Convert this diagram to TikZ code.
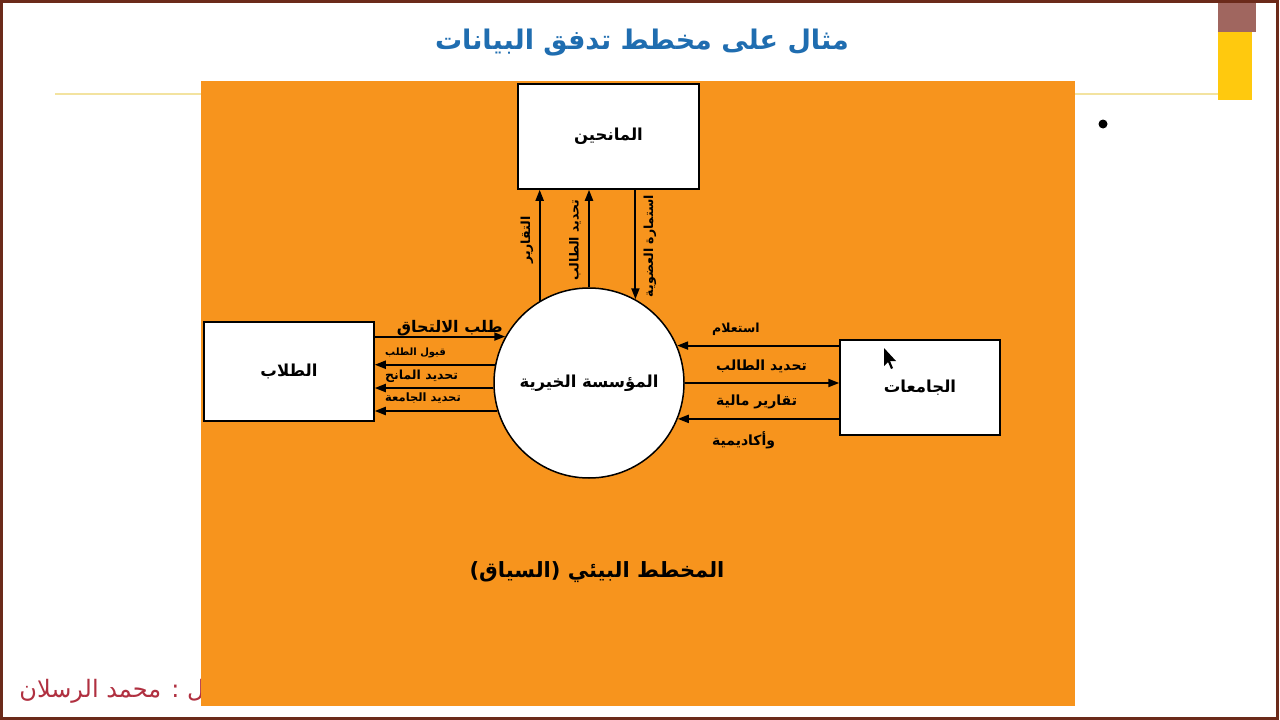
\documentclass[tikz,border=0pt]{standalone}
\usepackage{fontspec}
\newfontfamily\arabicfont[Script=Arabic]{DejaVu Sans}
\TeXXeTstate=1
\usetikzlibrary{arrows.meta,calc}
\definecolor{panelorange}{HTML}{F7941D}
\definecolor{titleblue}{HTML}{1F6DB0}
\definecolor{framebrown}{HTML}{6B2A1A}
\definecolor{tabmauve}{HTML}{A0665F}
\definecolor{tabyellow}{HTML}{FFC90E}
\definecolor{rulepale}{HTML}{F3E3A0}
\definecolor{signred}{HTML}{B03040}
\newcommand{\artxt}[1]{{\arabicfont\beginR #1\endR}}
\tikzset{
  box/.style={draw, line width=1.5pt, fill=white, inner sep=0pt,
              font=\bfseries\fontsize{16.5}{19}\selectfont},
  proc/.style={circle, draw, line width=1.5pt, fill=white, minimum size=190pt,
               font=\bfseries\fontsize{16.5}{19}\selectfont},
  lbl/.style={inner sep=0pt, font=\bfseries\fontsize{12.5}{15}\selectfont},
  biglbl/.style={lbl, font=\bfseries\fontsize{16}{19}\selectfont},
  edge/.style={-{Triangle[length=11pt,width=8pt]}, line width=2pt}
}

\begin{document}
\begin{tikzpicture}[x=1pt, y=-1pt]
  \useasboundingbox (0,0) rectangle (1280,720);
  \fill[white] (0,0) rectangle (1280,720);

  % slide decoration
  \draw[rulepale, line width=1.5pt] (55,94) -- (1218,94);
  \fill[tabmauve] (1218,0) rectangle (1256,32);
  \fill[tabyellow] (1218,32) rectangle (1252,100);
  \fill[black] (1103,124) circle (4.5);
  \node[text=signred, anchor=east, font=\fontsize{24}{28}\selectfont] (sign) at (208,691) {\artxt{ل : محمد الرسلان}};
  \draw[framebrown, line width=3pt] (1.5,1.5) rectangle (1277,718);

  % title
  \node[text=titleblue, font=\bfseries\fontsize{27}{32}\selectfont] (title) at (642,43)
    {\artxt{مثال على مخطط تدفق البيانات}};

  % panel
  \fill[panelorange] (201,81) rectangle (1075,706);

  % entities and process
  \node[box, minimum width=181pt, minimum height=105pt] (donors) at (608.5,136.5) {\artxt{المانحين}};
  \node[box, minimum width=170pt, minimum height=99pt] (students) at (289,371.5) {\artxt{الطلاب}};
  \node[box, minimum width=160pt, minimum height=95pt] (univ) at (920,387.5) {\artxt{الجامعات}};
  \node[proc] (org) at (589,383) {\artxt{المؤسسة الخيرية}};

  % flows with donors
  \draw[edge] (org.121.8) -- (org.121.8 |- donors.south);
  \draw[edge] (org.north) -- (org.north |- donors.south);
  \draw[edge] (org.61.7 |- donors.south) -- (org.61.7);
  \node[lbl, rotate=90] (reports) at (527,240) {\artxt{التقارير}};
  \node[lbl, rotate=90] (pickst) at (575,240) {\artxt{تحديد الطالب}};
  \node[lbl, rotate=90] (memform) at (650,246) {\artxt{استمارة العضوية}};

  % flows with students
  \draw[edge] (org.151.7 -| students.east) -- (org.151.7);
  \draw[edge] (org.169.7) -- (org.169.7 -| students.east);
  \draw[edge] (org.183) -- (org.183 -| students.east);
  \draw[edge] (org.197.8) -- (org.197.8 -| students.east);
  \node[biglbl, anchor=east] (apply) at (503,328) {\artxt{طلب الالتحاق}};
  \node[lbl, anchor=west, font=\bfseries\fontsize{10}{12}\selectfont] (accept) at (385,353) {\artxt{قبول الطلب}};
  \node[lbl, anchor=west] (pickdn) at (385,376) {\artxt{تحديد المانح}};
  \node[lbl, anchor=west, font=\bfseries\fontsize{11.5}{14}\selectfont] (pickun) at (385,398) {\artxt{تحديد الجامعة}};

  % flows with universities
  \draw[edge] (org.23.6 -| univ.west) -- (org.23.6);
  \draw[edge] (org.0.6) -- (org.0.6 -| univ.west);
  \draw[edge] (org.-22.3 -| univ.west) -- (org.-22.3);
  \node[lbl, anchor=west] (query) at (712,329) {\artxt{استعلام}};
  \node[lbl, anchor=west, font=\bfseries\fontsize{14}{17}\selectfont] (pickst2) at (716,366) {\artxt{تحديد الطالب}};
  \node[lbl, anchor=west, font=\bfseries\fontsize{14}{17}\selectfont] (finrep) at (716,402) {\artxt{تقارير مالية}};
  \node[lbl, anchor=west, font=\bfseries\fontsize{14}{17}\selectfont] (acad) at (712,440) {\artxt{وأكاديمية}};

  % mouse pointer
  \fill[black] (884,348) -- (884,366) -- (888,362) -- (891,369) -- (893,368) -- (890,361) -- (896,361) -- cycle;

  % caption
  \node[font=\bfseries\fontsize{21}{25}\selectfont] (caption) at (597,572) {\artxt{المخطط البيئي (السياق)}};
\end{tikzpicture}
\end{document}
